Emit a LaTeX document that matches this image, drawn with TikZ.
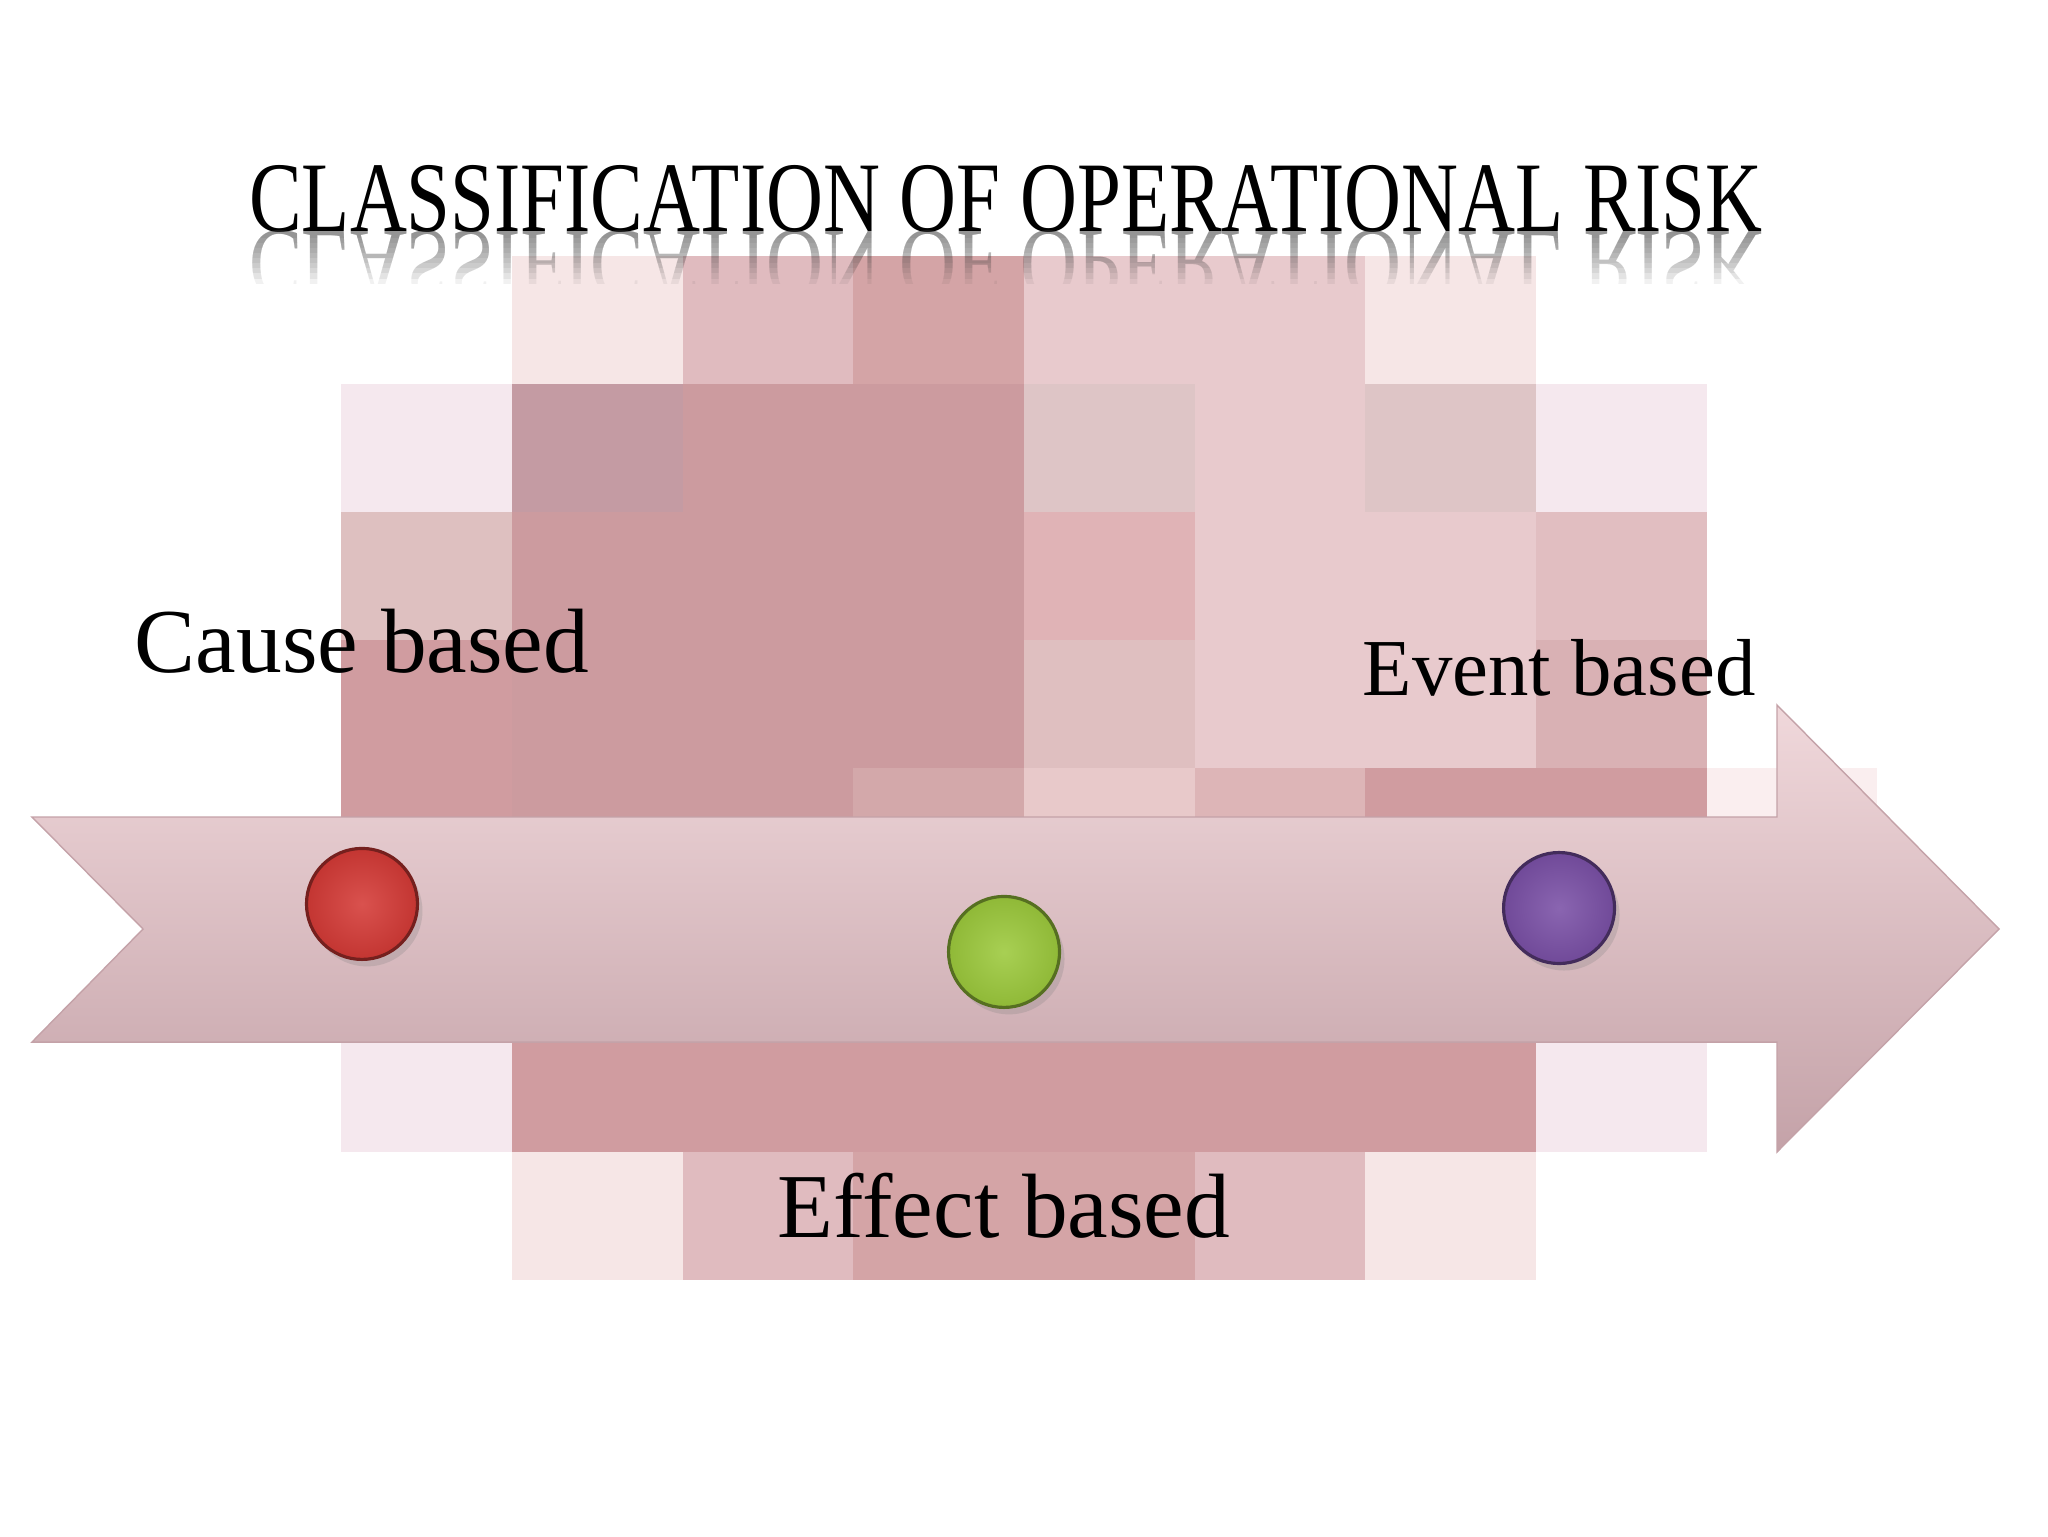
\documentclass[tikz,border=0pt]{standalone}
\usepackage{fontspec}
\setmainfont{Liberation Serif}
\usepackage{xcolor}
\usetikzlibrary{positioning, shadows}

\definecolor{cellpale}{HTML}{F6E6E6}
\definecolor{celllilac}{HTML}{F5E8EE}
\definecolor{cellblush}{HTML}{E0BBBF}
\definecolor{cellsoft}{HTML}{E8CACD}
\definecolor{cellgrey}{HTML}{DEC5C6}
\definecolor{cellmauve}{HTML}{C49BA3}
\definecolor{cellrose}{HTML}{CC9B9F}
\definecolor{celldeep}{HTML}{D09CA0}
\definecolor{cellwarm}{HTML}{D4A4A6}
\definecolor{cellmid}{HTML}{DEC0C0}
\definecolor{cellpink}{HTML}{E0B3B6}
\definecolor{cellfog}{HTML}{DFBFC0}
\definecolor{cellside}{HTML}{E1BEC1}
\definecolor{celldusk}{HTML}{D9B1B4}
\definecolor{cellash}{HTML}{D3A8AA}
\definecolor{celllight}{HTML}{E8C9CA}
\definecolor{celltan}{HTML}{DDB5B7}
\definecolor{cellfaint}{HTML}{FAEEEF}
\definecolor{arrowtop}{HTML}{F0D8DB}
\definecolor{arrowbot}{HTML}{C4A2A8}
\definecolor{dotred}{HTML}{D43A36}
\definecolor{dotgreen}{HTML}{9CC93C}
\definecolor{dotpurple}{HTML}{7A50A6}

\tikzset{%
	marker/.style={
		circle,
		inner sep=0pt,
		minimum size=1.11cm,
		line width=0.9pt,
		drop shadow={shadow xshift=0.05cm, shadow yshift=-0.07cm, opacity=0.25}
	},
	marker color/.style={
		marker,
		draw=#1!55!black,
		inner color=#1!88!white,
		outer color=#1!92!black
	},
	stage label/.style={
		anchor=base,
		inner sep=0pt,
		font=\fontsize{26}{30}\selectfont
	},
	title text/.style={
		anchor=base,
		inner sep=0pt,
		font=\fontsize{28.4}{32}\selectfont
	},
}

\begin{document}
\begin{tikzpicture}[x=1.70667cm, y=1.28cm]
			
			\useasboundingbox (0,0) rectangle (12,12);
			
			% mosaic background
			\foreach \c/\r/\col in {3/2/cellpale, 4/2/cellblush, 5/2/cellwarm, 6/2/cellsoft, 7/2/cellsoft, 8/2/cellpale,
				2/3/celllilac, 3/3/cellmauve, 4/3/cellrose, 5/3/cellrose, 6/3/cellgrey, 7/3/cellsoft, 8/3/cellgrey, 9/3/celllilac,
				2/4/cellmid, 3/4/cellrose, 4/4/cellrose, 5/4/cellrose, 6/4/cellpink, 7/4/cellsoft, 8/4/cellsoft, 9/4/cellside,
				2/5/celldeep, 3/5/cellrose, 4/5/cellrose, 5/5/cellrose, 6/5/cellfog, 7/5/cellsoft, 8/5/cellsoft, 9/5/celldusk,
				2/6/celldeep, 3/6/cellrose, 4/6/cellrose, 5/6/cellash, 6/6/celllight, 7/6/celltan, 8/6/celldeep, 9/6/celldeep, 10/6/cellfaint,
				2/8/celllilac, 3/8/celldeep, 4/8/celldeep, 5/8/celldeep, 6/8/celldeep, 7/8/celldeep, 8/8/celldeep, 9/8/celllilac,
				3/9/cellpale, 4/9/cellblush, 5/9/cellwarm, 6/9/cellwarm, 7/9/cellblush, 8/9/cellpale}
			\fill [\col] (\c,12-\r) rectangle ++(1,-1);
			
			% title and its reflection (stacked copies, each cut shorter)
			\node [title text] (title) at (5.895,10.1875) {\scalebox{0.79}[1]{CLASSIFICATION OF OPERATIONAL RISK}};
			\foreach \k in {1,...,10}
			{
				\begin{scope}
					\clip (0,10.2) rectangle (12,10.1875-0.04*\k);
					\node [title text, text=black!80, opacity=0.07] at (title.base) {\scalebox{0.79}[-1]{CLASSIFICATION OF OPERATIONAL RISK}};
				\end{scope}
			}
			
			% timeline arrow
			\draw [top color=arrowtop, bottom color=arrowbot, draw=arrowbot, line width=0.4pt]
				(0.1875,5.617) -- (10.412,5.617) -- (10.412,6.492) -- (11.713,4.742)
				-- (10.412,3.0) -- (10.412,3.859) -- (0.1875,3.859) -- (0.838,4.742) -- cycle;
			
			\node [marker color=dotred] (causedot) at (2.121,4.938) {};
			\node [marker color=dotgreen] (effectdot) at (5.883,4.563) {};
			\node [marker color=dotpurple] (eventdot) at (9.135,4.906) {};
			
			\node [stage label] (cause) at ([yshift=2.31cm]causedot.center) {Cause based};
			\node [stage label, font=\fontsize{23}{27}\selectfont] (event) at ([yshift=2.13cm]eventdot.center) {Event based};
			\node [stage label] (effect) at ([yshift=-2.86cm]effectdot.center) {Effect based};
			
		\end{tikzpicture}
\end{document}
